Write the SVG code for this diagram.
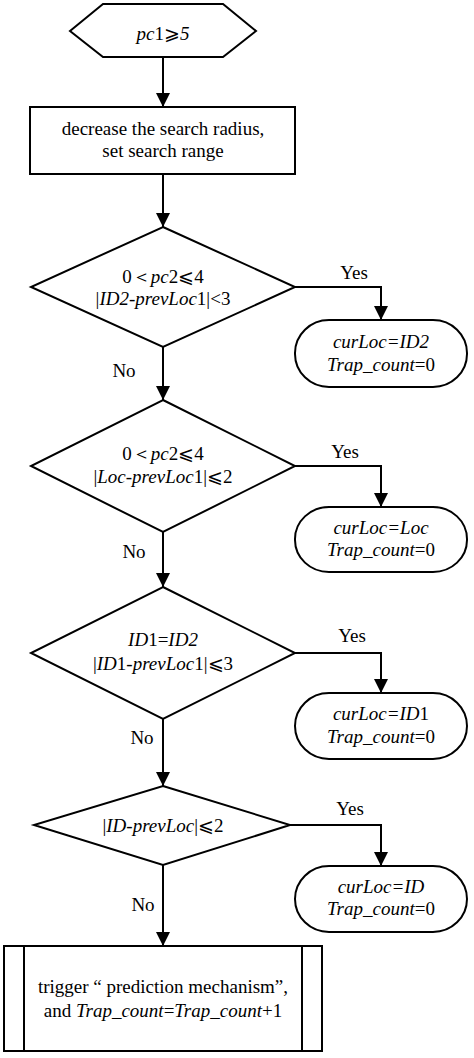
<svg xmlns="http://www.w3.org/2000/svg" width="474" height="1058" viewBox="0 0 474 1058">
<style>
.s{fill:#fff;stroke:#000;stroke-width:2}
.c{fill:none;stroke:#000;stroke-width:2}
text{font-family:"Liberation Serif","Times New Roman","DejaVu Serif",serif;font-size:19px;fill:#000;text-anchor:middle}
.i{font-style:italic}
</style>
<defs>
<marker id="ah" markerUnits="userSpaceOnUse" markerWidth="14" markerHeight="14" refX="14" refY="7" orient="auto">
<path d="M0,0 L14,7 L0,14 z" fill="#000"/>
</marker>
</defs>
<rect width="474" height="1058" fill="#fff"/>
<g id="connectors">
<path class="c" d="M163,57 V107" marker-end="url(#ah)"/>
<path class="c" d="M163,174 V227" marker-end="url(#ah)"/>
<path class="c" d="M163,347 V400" marker-end="url(#ah)"/>
<path class="c" d="M163,532 V587" marker-end="url(#ah)"/>
<path class="c" d="M163,719 V786" marker-end="url(#ah)"/>
<path class="c" d="M163,865 V946" marker-end="url(#ah)"/>
<path class="c" d="M295,287 H381 V320" marker-end="url(#ah)"/>
<path class="c" d="M295,466 H381 V507" marker-end="url(#ah)"/>
<path class="c" d="M295,653 H381 V693" marker-end="url(#ah)"/>
<path class="c" d="M290,825 H381 V866" marker-end="url(#ah)"/>
<text x="354" y="279">Yes</text>
<text x="345" y="458">Yes</text>
<text x="352" y="642">Yes</text>
<text x="350" y="815">Yes</text>
<text x="124" y="377">No</text>
<text x="134" y="558">No</text>
<text x="142" y="744">No</text>
<text x="143" y="911">No</text>
</g>
<g id="start">
<polygon class="s" points="70,31 103,4 223,4 256,31 223,57 103,57"/>
<text x="163" y="40"><tspan class="i">pc</tspan>1⩾<tspan class="i">5</tspan></text>
</g>
<g id="decrease">
<rect class="s" x="30" y="107" width="265" height="67"/>
<text x="163" y="135">decrease the search radius,</text>
<text x="163" y="157">set search range</text>
</g>
<g id="cond1">
<polygon class="s" points="163,227 295,287 163,347 31,287"/>
<text x="163" y="283">0＜<tspan class="i">pc</tspan>2⩽4</text>
<text x="163" y="305">|<tspan class="i">ID2-prevLoc</tspan>1|&lt;3</text>
</g>
<g id="res1">
<rect class="s" x="295" y="320" width="172" height="67" rx="34" ry="33"/>
<text x="381" y="348" class="i">curLoc=ID2</text>
<text x="381" y="371"><tspan class="i">Trap_count</tspan>=0</text>
</g>
<g id="cond2">
<polygon class="s" points="163,400 295,466 163,532 31,466"/>
<text x="163" y="460">0＜<tspan class="i">pc</tspan>2⩽4</text>
<text x="163" y="483">|<tspan class="i">Loc-prevLoc</tspan>1|⩽2</text>
</g>
<g id="res2">
<rect class="s" x="295" y="507" width="172" height="65" rx="34" ry="32"/>
<text x="381" y="534" class="i">curLoc=Loc</text>
<text x="381" y="556"><tspan class="i">Trap_count</tspan>=0</text>
</g>
<g id="cond3">
<polygon class="s" points="163,587 295,653 163,719 31,653"/>
<text x="163" y="646"><tspan class="i">ID</tspan>1=<tspan class="i">ID2</tspan></text>
<text x="163" y="670">|<tspan class="i">ID</tspan>1<tspan class="i">-prevLoc</tspan>1|⩽3</text>
</g>
<g id="res3">
<rect class="s" x="295" y="693" width="172" height="66" rx="34" ry="33"/>
<text x="381" y="720"><tspan class="i">curLoc=ID</tspan>1</text>
<text x="381" y="743"><tspan class="i">Trap_count</tspan>=0</text>
</g>
<g id="cond4">
<polygon class="s" points="163,786 290,825 163,865 34,825"/>
<text x="163" y="832">|<tspan class="i">ID-prevLoc</tspan>|⩽2</text>
</g>
<g id="res4">
<rect class="s" x="295" y="866" width="172" height="66" rx="34" ry="33"/>
<text x="381" y="893" class="i">curLoc=ID</text>
<text x="381" y="915"><tspan class="i">Trap_count</tspan>=0</text>
</g>
<g id="predict">
<rect class="s" x="4" y="946" width="318" height="105"/>
<line class="c" x1="24" y1="946" x2="24" y2="1051"/>
<line class="c" x1="302" y1="946" x2="302" y2="1051"/>
<text x="163" y="993">trigger “ prediction mechanism”,</text>
<text x="163" y="1017">and <tspan class="i">Trap_count</tspan>=<tspan class="i">Trap_count</tspan>+1</text>
</g>
</svg>
